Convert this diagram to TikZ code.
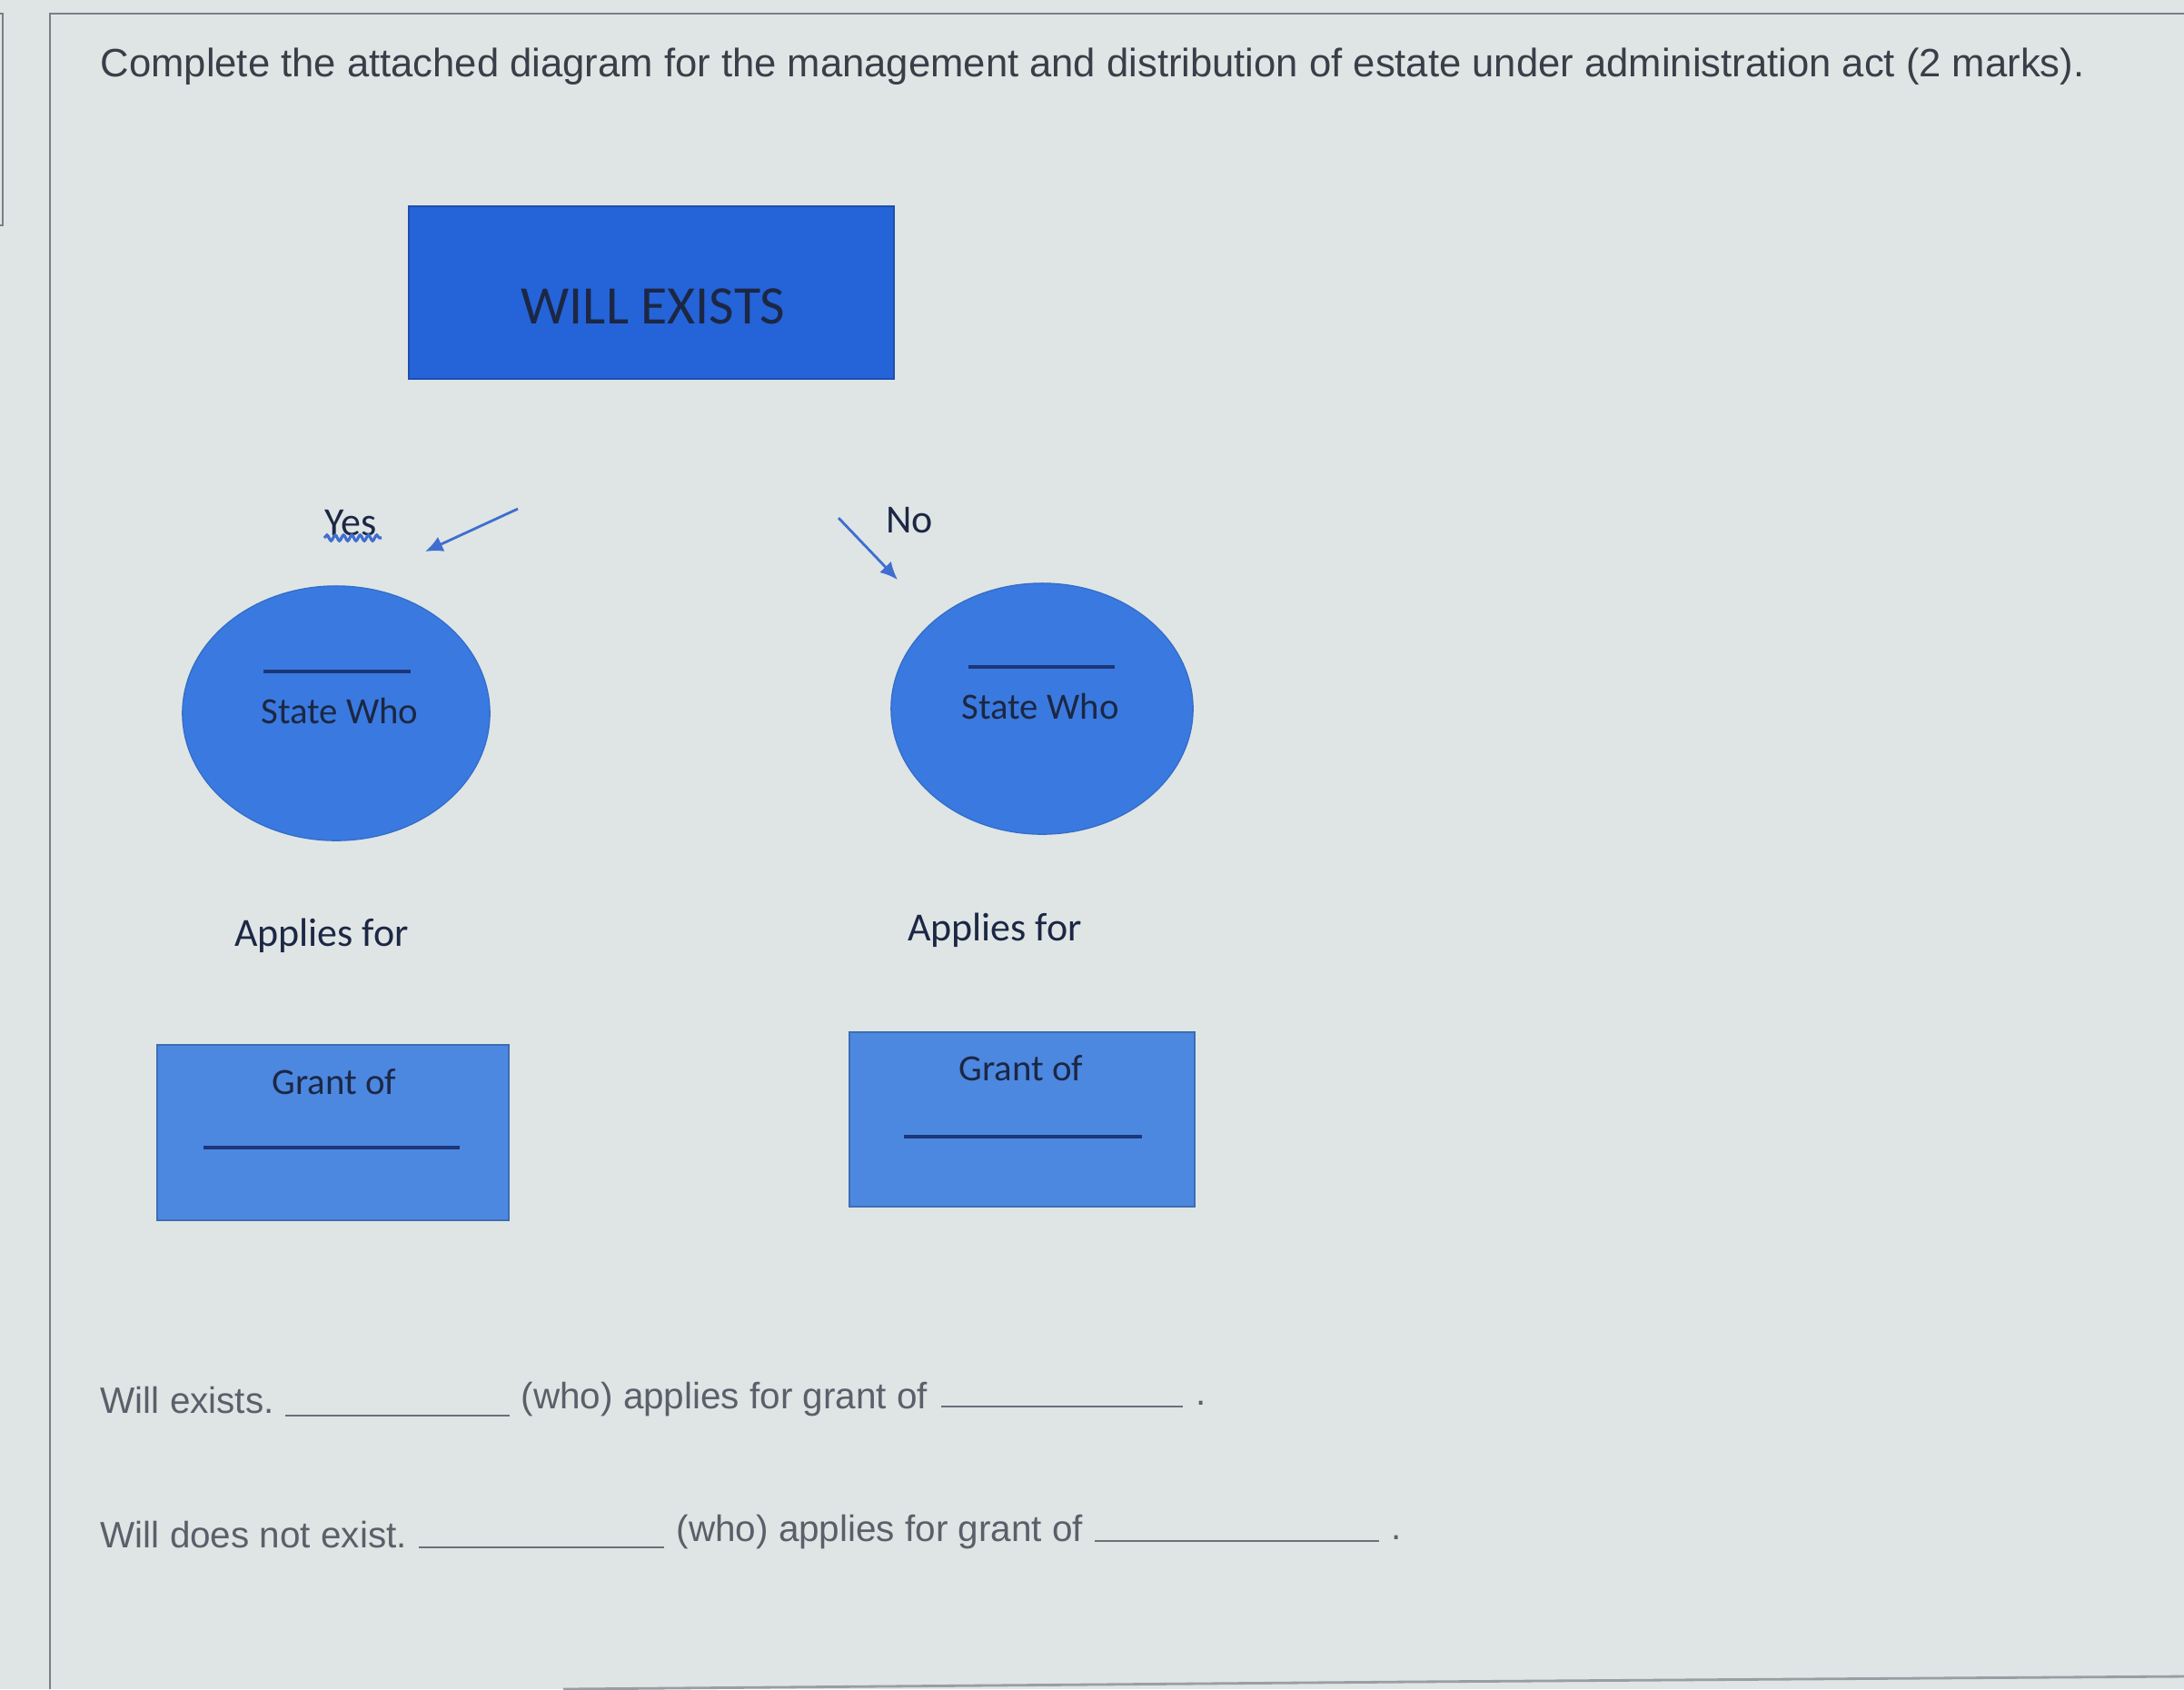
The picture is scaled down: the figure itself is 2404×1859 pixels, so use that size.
\documentclass[tikz,border=0pt]{standalone}
\usepackage{fontspec}
\setmainfont{Liberation Sans}
\newfontfamily\califont{Carlito}
\usetikzlibrary{arrows.meta,shapes.geometric,decorations.pathmorphing}
\definecolor{bgc}{HTML}{DFE5E5}
\definecolor{framec}{HTML}{7A7F86}
\definecolor{willblue}{HTML}{2563D8}
\definecolor{ellblue}{HTML}{3A7AE0}
\definecolor{grantblue}{HTML}{4C88E0}
\definecolor{navy}{HTML}{1C2744}
\definecolor{linenavy}{HTML}{1D3678}
\definecolor{arrowblue}{HTML}{3F6ED0}
\definecolor{titlec}{HTML}{3A3E48}
\definecolor{bodyc}{HTML}{596069}
\definecolor{blankc}{HTML}{6A7078}
\begin{document}
\begin{tikzpicture}[x=0.01cm,y=-0.01cm,
  frameline/.style={draw=framec,line width=0.8pt},
  willbox/.style={rectangle,fill=willblue,draw=willblue!80!black,line width=0.6pt,minimum width=5.33cm,minimum height=1.90cm,inner sep=0pt},
  ellbox/.style={ellipse,fill=ellblue,draw=ellblue!90!black,line width=0.4pt,inner sep=0pt},
  grantbox/.style={rectangle,fill=grantblue,draw=grantblue!80!black,line width=0.6pt,inner sep=0pt},
  diagtxt/.style={font=\califont\fontsize{11.6}{13}\selectfont,text=navy,inner sep=0pt},
  bigtxt/.style={font=\califont\fontsize{17}{20}\selectfont,text=navy,inner sep=0pt},
  labtxt/.style={font=\califont\fontsize{12.5}{15}\selectfont,text=navy,inner sep=0pt},
  inline/.style={draw=linenavy,line width=0.9pt},
  pointer/.style={draw=arrowblue,line width=0.8pt,-{Latex[length=5.5pt,width=5pt]}},
  bodytxt/.style={font=\fontsize{11.5}{14}\selectfont,text=bodyc,inner sep=0pt,anchor=base west},
  blank/.style={draw=blankc,line width=0.6pt}
]
\useasboundingbox (0,0) rectangle (2404,1859);
\fill[bgc] (0,0) rectangle (2404,1859);
% page frame
\draw[frameline] (55,1859) -- (55,15) -- (2404,15);
\draw[draw=framec!70!bgc,line width=0.8pt] (620,1859) -- (1550,1851) -- (2404,1845);
\draw[frameline] (0,15) -- (3,15) -- (3,248) -- (0,248);
% title
\node[font=\fontsize{12.4}{15}\selectfont,text=titlec,inner sep=0pt,anchor=base west] (title) at (110,84)
  {Complete the attached diagram for the management and distribution of estate under administration act (2 marks).};
% will exists
\node[willbox] (will) at (717,322) {};
\node[bigtxt] (willt) at (719,337) {WILL EXISTS};
% yes / no
\node[labtxt] (yes) at (386,576) {Yes};
\draw[draw=arrowblue,line width=0.9pt,decorate,decoration={snake,amplitude=0.9pt,segment length=2.6pt}] (357,592) -- (420,592);
\coordinate (yesA) at (570,560);
\coordinate (yesB) at (468,607);
\draw[pointer] (yesA) -- (yesB);
\node[labtxt] (no) at (1001,573) {No};
\coordinate (noA) at (923,570);
\coordinate (noB) at (988,638);
\draw[pointer] (noA) -- (noB);
% ellipses
\node[ellbox,minimum width=3.38cm,minimum height=2.80cm] (e1) at (370,785) {};
\draw[inline] (290,739) -- (452,739);
\node[diagtxt] (e1t) at (374,782) {State Who};
\node[ellbox,minimum width=3.32cm,minimum height=2.76cm] (e2) at (1147,780) {};
\draw[inline] (1066,734) -- (1227,734);
\node[diagtxt] (e2t) at (1145,777) {State Who};
% applies for
\node[labtxt] (ap1) at (354,1030) {Applies for};
\node[labtxt] (ap2) at (1095,1024) {Applies for};
% grant boxes
\node[grantbox,minimum width=3.87cm,minimum height=1.93cm] (g1) at (366.5,1246.5) {};
\node[diagtxt] (g1t) at (368,1191) {Grant of};
\draw[inline] (224,1263) -- (506,1263);
\node[grantbox,minimum width=3.80cm,minimum height=1.92cm] (g2) at (1125,1232) {};
\node[diagtxt] (g2t) at (1124,1176) {Grant of};
\draw[inline] (995,1251) -- (1257,1251);
% bottom sentences
\node[bodytxt] (s1a) at (110,1555) {Will exists.};
\draw[blank] (314,1558) -- (561,1558);
\node[bodytxt] (s1b) at (573,1550) {(who) applies for grant of};
\draw[blank] (1036,1548) -- (1302,1548);
\node[bodytxt] (s1c) at (1316,1546) {.};
\node[bodytxt] (s2a) at (110,1703) {Will does not exist.};
\draw[blank] (461,1703) -- (731,1703);
\node[bodytxt] (s2b) at (744,1696) {(who) applies for grant of};
\draw[blank] (1205,1696) -- (1518,1696);
\node[bodytxt] (s2c) at (1531,1694) {.};
\end{tikzpicture}
\end{document}
